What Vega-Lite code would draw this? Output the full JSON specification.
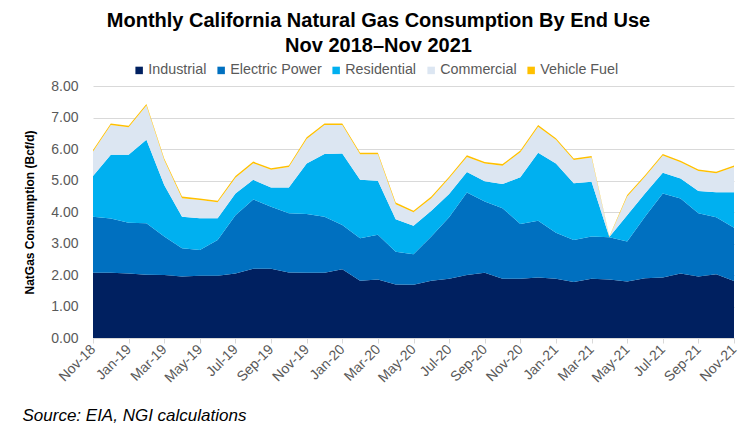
{
  "$schema": "https://vega.github.io/schema/vega-lite/v6.json",
  "autosize": {"type": "none"},
  "padding": {"left": 93, "top": 86, "right": 22, "bottom": 94},
  "width": 641,
  "height": 252,
  "background": "white",
  "title": {
    "text": ["Monthly California Natural Gas Consumption By End Use", "Nov 2018–Nov 2021"],
    "font": "Liberation Sans Narrow, Arial Narrow, Liberation Sans",
    "fontWeight": "bold",
    "fontSize": 20,
    "lineHeight": 25,
    "color": "#000000",
    "anchor": "middle",
    "dx": -35,
    "offset": 7
  },
  "datasets": {
    "stackRank": [
      {"use": "Industrial", "rank": 1},
      {"use": "Electric Power", "rank": 2},
      {"use": "Residential", "rank": 3},
      {"use": "Commercial", "rank": 4},
      {"use": "Vehicle Fuel", "rank": 5}
    ]
  },
  "data": {
    "values": [
      {"m": "Nov-18", "Industrial": 2.07, "Electric Power": 1.78, "Residential": 1.29, "Commercial": 0.78, "Vehicle Fuel": 0.05},
      {"m": "Dec-18", "Industrial": 2.07, "Electric Power": 1.72, "Residential": 2.03, "Commercial": 0.94, "Vehicle Fuel": 0.05},
      {"m": "Jan-19", "Industrial": 2.05, "Electric Power": 1.61, "Residential": 2.16, "Commercial": 0.87, "Vehicle Fuel": 0.05},
      {"m": "Feb-19", "Industrial": 2.01, "Electric Power": 1.63, "Residential": 2.65, "Commercial": 1.09, "Vehicle Fuel": 0.05},
      {"m": "Mar-19", "Industrial": 2.00, "Electric Power": 1.22, "Residential": 1.64, "Commercial": 0.79, "Vehicle Fuel": 0.05},
      {"m": "Apr-19", "Industrial": 1.95, "Electric Power": 0.90, "Residential": 1.00, "Commercial": 0.59, "Vehicle Fuel": 0.05},
      {"m": "May-19", "Industrial": 1.98, "Electric Power": 0.81, "Residential": 1.01, "Commercial": 0.58, "Vehicle Fuel": 0.05},
      {"m": "Jun-19", "Industrial": 1.98, "Electric Power": 1.13, "Residential": 0.69, "Commercial": 0.51, "Vehicle Fuel": 0.05},
      {"m": "Jul-19", "Industrial": 2.05, "Electric Power": 1.85, "Residential": 0.69, "Commercial": 0.50, "Vehicle Fuel": 0.05},
      {"m": "Aug-19", "Industrial": 2.20, "Electric Power": 2.20, "Residential": 0.62, "Commercial": 0.53, "Vehicle Fuel": 0.05},
      {"m": "Sep-19", "Industrial": 2.20, "Electric Power": 1.97, "Residential": 0.61, "Commercial": 0.56, "Vehicle Fuel": 0.05},
      {"m": "Oct-19", "Industrial": 2.08, "Electric Power": 1.88, "Residential": 0.82, "Commercial": 0.65, "Vehicle Fuel": 0.05},
      {"m": "Nov-19", "Industrial": 2.07, "Electric Power": 1.87, "Residential": 1.60, "Commercial": 0.78, "Vehicle Fuel": 0.05},
      {"m": "Dec-19", "Industrial": 2.07, "Electric Power": 1.78, "Residential": 1.99, "Commercial": 0.92, "Vehicle Fuel": 0.05},
      {"m": "Jan-20", "Industrial": 2.18, "Electric Power": 1.41, "Residential": 2.27, "Commercial": 0.90, "Vehicle Fuel": 0.05},
      {"m": "Feb-20", "Industrial": 1.82, "Electric Power": 1.35, "Residential": 1.85, "Commercial": 0.81, "Vehicle Fuel": 0.05},
      {"m": "Mar-20", "Industrial": 1.86, "Electric Power": 1.42, "Residential": 1.71, "Commercial": 0.84, "Vehicle Fuel": 0.05},
      {"m": "Apr-20", "Industrial": 1.70, "Electric Power": 1.04, "Residential": 1.03, "Commercial": 0.48, "Vehicle Fuel": 0.05},
      {"m": "May-20", "Industrial": 1.69, "Electric Power": 0.97, "Residential": 0.90, "Commercial": 0.43, "Vehicle Fuel": 0.05},
      {"m": "Jun-20", "Industrial": 1.82, "Electric Power": 1.40, "Residential": 0.82, "Commercial": 0.40, "Vehicle Fuel": 0.05},
      {"m": "Jul-20", "Industrial": 1.88, "Electric Power": 1.95, "Residential": 0.74, "Commercial": 0.50, "Vehicle Fuel": 0.05},
      {"m": "Aug-20", "Industrial": 2.00, "Electric Power": 2.62, "Residential": 0.65, "Commercial": 0.48, "Vehicle Fuel": 0.05},
      {"m": "Sep-20", "Industrial": 2.07, "Electric Power": 2.26, "Residential": 0.65, "Commercial": 0.56, "Vehicle Fuel": 0.05},
      {"m": "Oct-20", "Industrial": 1.88, "Electric Power": 2.24, "Residential": 0.77, "Commercial": 0.58, "Vehicle Fuel": 0.05},
      {"m": "Nov-20", "Industrial": 1.88, "Electric Power": 1.74, "Residential": 1.48, "Commercial": 0.80, "Vehicle Fuel": 0.05},
      {"m": "Dec-20", "Industrial": 1.92, "Electric Power": 1.80, "Residential": 2.16, "Commercial": 0.83, "Vehicle Fuel": 0.05},
      {"m": "Jan-21", "Industrial": 1.88, "Electric Power": 1.46, "Residential": 2.20, "Commercial": 0.75, "Vehicle Fuel": 0.05},
      {"m": "Feb-21", "Industrial": 1.78, "Electric Power": 1.33, "Residential": 1.80, "Commercial": 0.74, "Vehicle Fuel": 0.05},
      {"m": "Mar-21", "Industrial": 1.88, "Electric Power": 1.34, "Residential": 1.74, "Commercial": 0.77, "Vehicle Fuel": 0.05},
      {"m": "Apr-21", "Industrial": 1.86, "Electric Power": 1.34, "Residential": 0.01, "Commercial": 0.00, "Vehicle Fuel": 0.01},
      {"m": "May-21", "Industrial": 1.79, "Electric Power": 1.27, "Residential": 0.84, "Commercial": 0.59, "Vehicle Fuel": 0.05},
      {"m": "Jun-21", "Industrial": 1.90, "Electric Power": 1.95, "Residential": 0.74, "Commercial": 0.53, "Vehicle Fuel": 0.05},
      {"m": "Jul-21", "Industrial": 1.92, "Electric Power": 2.67, "Residential": 0.66, "Commercial": 0.54, "Vehicle Fuel": 0.05},
      {"m": "Aug-21", "Industrial": 2.05, "Electric Power": 2.38, "Residential": 0.63, "Commercial": 0.52, "Vehicle Fuel": 0.05},
      {"m": "Sep-21", "Industrial": 1.95, "Electric Power": 2.01, "Residential": 0.71, "Commercial": 0.63, "Vehicle Fuel": 0.05},
      {"m": "Oct-21", "Industrial": 2.02, "Electric Power": 1.81, "Residential": 0.80, "Commercial": 0.60, "Vehicle Fuel": 0.05},
      {"m": "Nov-21", "Industrial": 1.81, "Electric Power": 1.69, "Residential": 1.13, "Commercial": 0.80, "Vehicle Fuel": 0.05}
    ]
  },
  "transform": [
    {"fold": ["Industrial", "Electric Power", "Residential", "Commercial", "Vehicle Fuel"], "as": ["use", "bcfd"]},
    {"lookup": "use", "from": {"data": {"name": "stackRank"}, "key": "use", "fields": ["rank"]}}
  ],
  "mark": {"type": "area", "interpolate": "linear"},
  "encoding": {
    "x": {
      "field": "m",
      "type": "ordinal",
      "sort": null,
      "scale": {"type": "point", "padding": 0},
      "axis": {
        "values": ["Nov-18", "Jan-19", "Mar-19", "May-19", "Jul-19", "Sep-19", "Nov-19", "Jan-20", "Mar-20", "May-20", "Jul-20", "Sep-20", "Nov-20", "Jan-21", "Mar-21", "May-21", "Jul-21", "Sep-21", "Nov-21"],
        "labelAngle": -45,
        "labelAlign": "right",
        "labelBaseline": "middle",
        "labelFont": "Liberation Sans",
        "labelFontSize": 14,
        "labelColor": "#595959",
        "labelPadding": 4,
        "domainColor": "#d9d9d9",
        "tickColor": "#d9d9d9",
        "tickSize": 5,
        "grid": false,
        "title": "Source: EIA, NGI calculations",
        "titleFont": "Liberation Sans Narrow, Liberation Sans",
        "titleFontStyle": "italic",
        "titleFontWeight": "normal",
        "titleFontSize": 17,
        "titleColor": "#000000",
        "titleAnchor": "start",
        "titleAlign": "left",
        "titleBaseline": "alphabetic",
        "titleX": -71,
        "titleY": 82
      }
    },
    "y": {
      "field": "bcfd",
      "type": "quantitative",
      "stack": "zero",
      "scale": {"domain": [0, 8], "nice": false},
      "axis": {
        "values": [0, 1, 2, 3, 4, 5, 6, 7, 8],
        "format": ".2f",
        "labelFont": "Liberation Sans",
        "labelFontSize": 14,
        "labelColor": "#595959",
        "labelPadding": 15,
        "domain": false,
        "ticks": false,
        "gridColor": "#d9d9d9",
        "title": "NatGas Consumption (Bcf/d)",
        "titleFont": "Liberation Sans",
        "titleFontSize": 12,
        "titleFontWeight": "bold",
        "titleColor": "#000000",
        "titlePadding": 14
      }
    },
    "color": {
      "field": "use",
      "type": "nominal",
      "sort": ["Industrial", "Electric Power", "Residential", "Commercial", "Vehicle Fuel"],
      "scale": {
        "domain": ["Industrial", "Electric Power", "Residential", "Commercial", "Vehicle Fuel"],
        "range": ["#002060", "#0070c0", "#00b0f0", "#dce6f2", "#ffc000"]
      },
      "legend": {
        "title": null,
        "orient": "none",
        "direction": "horizontal",
        "legendX": 39,
        "legendY": -23,
        "symbolType": "square",
        "symbolSize": 56,
        "symbolStrokeWidth": 0,
        "labelFont": "Liberation Sans",
        "labelFontSize": 14.3,
        "labelColor": "#595959",
        "labelOffset": 2,
        "columnPadding": 7
      }
    },
    "order": {"field": "rank", "type": "quantitative", "sort": "ascending"}
  },
  "config": {
    "view": {"stroke": null}
  }
}
